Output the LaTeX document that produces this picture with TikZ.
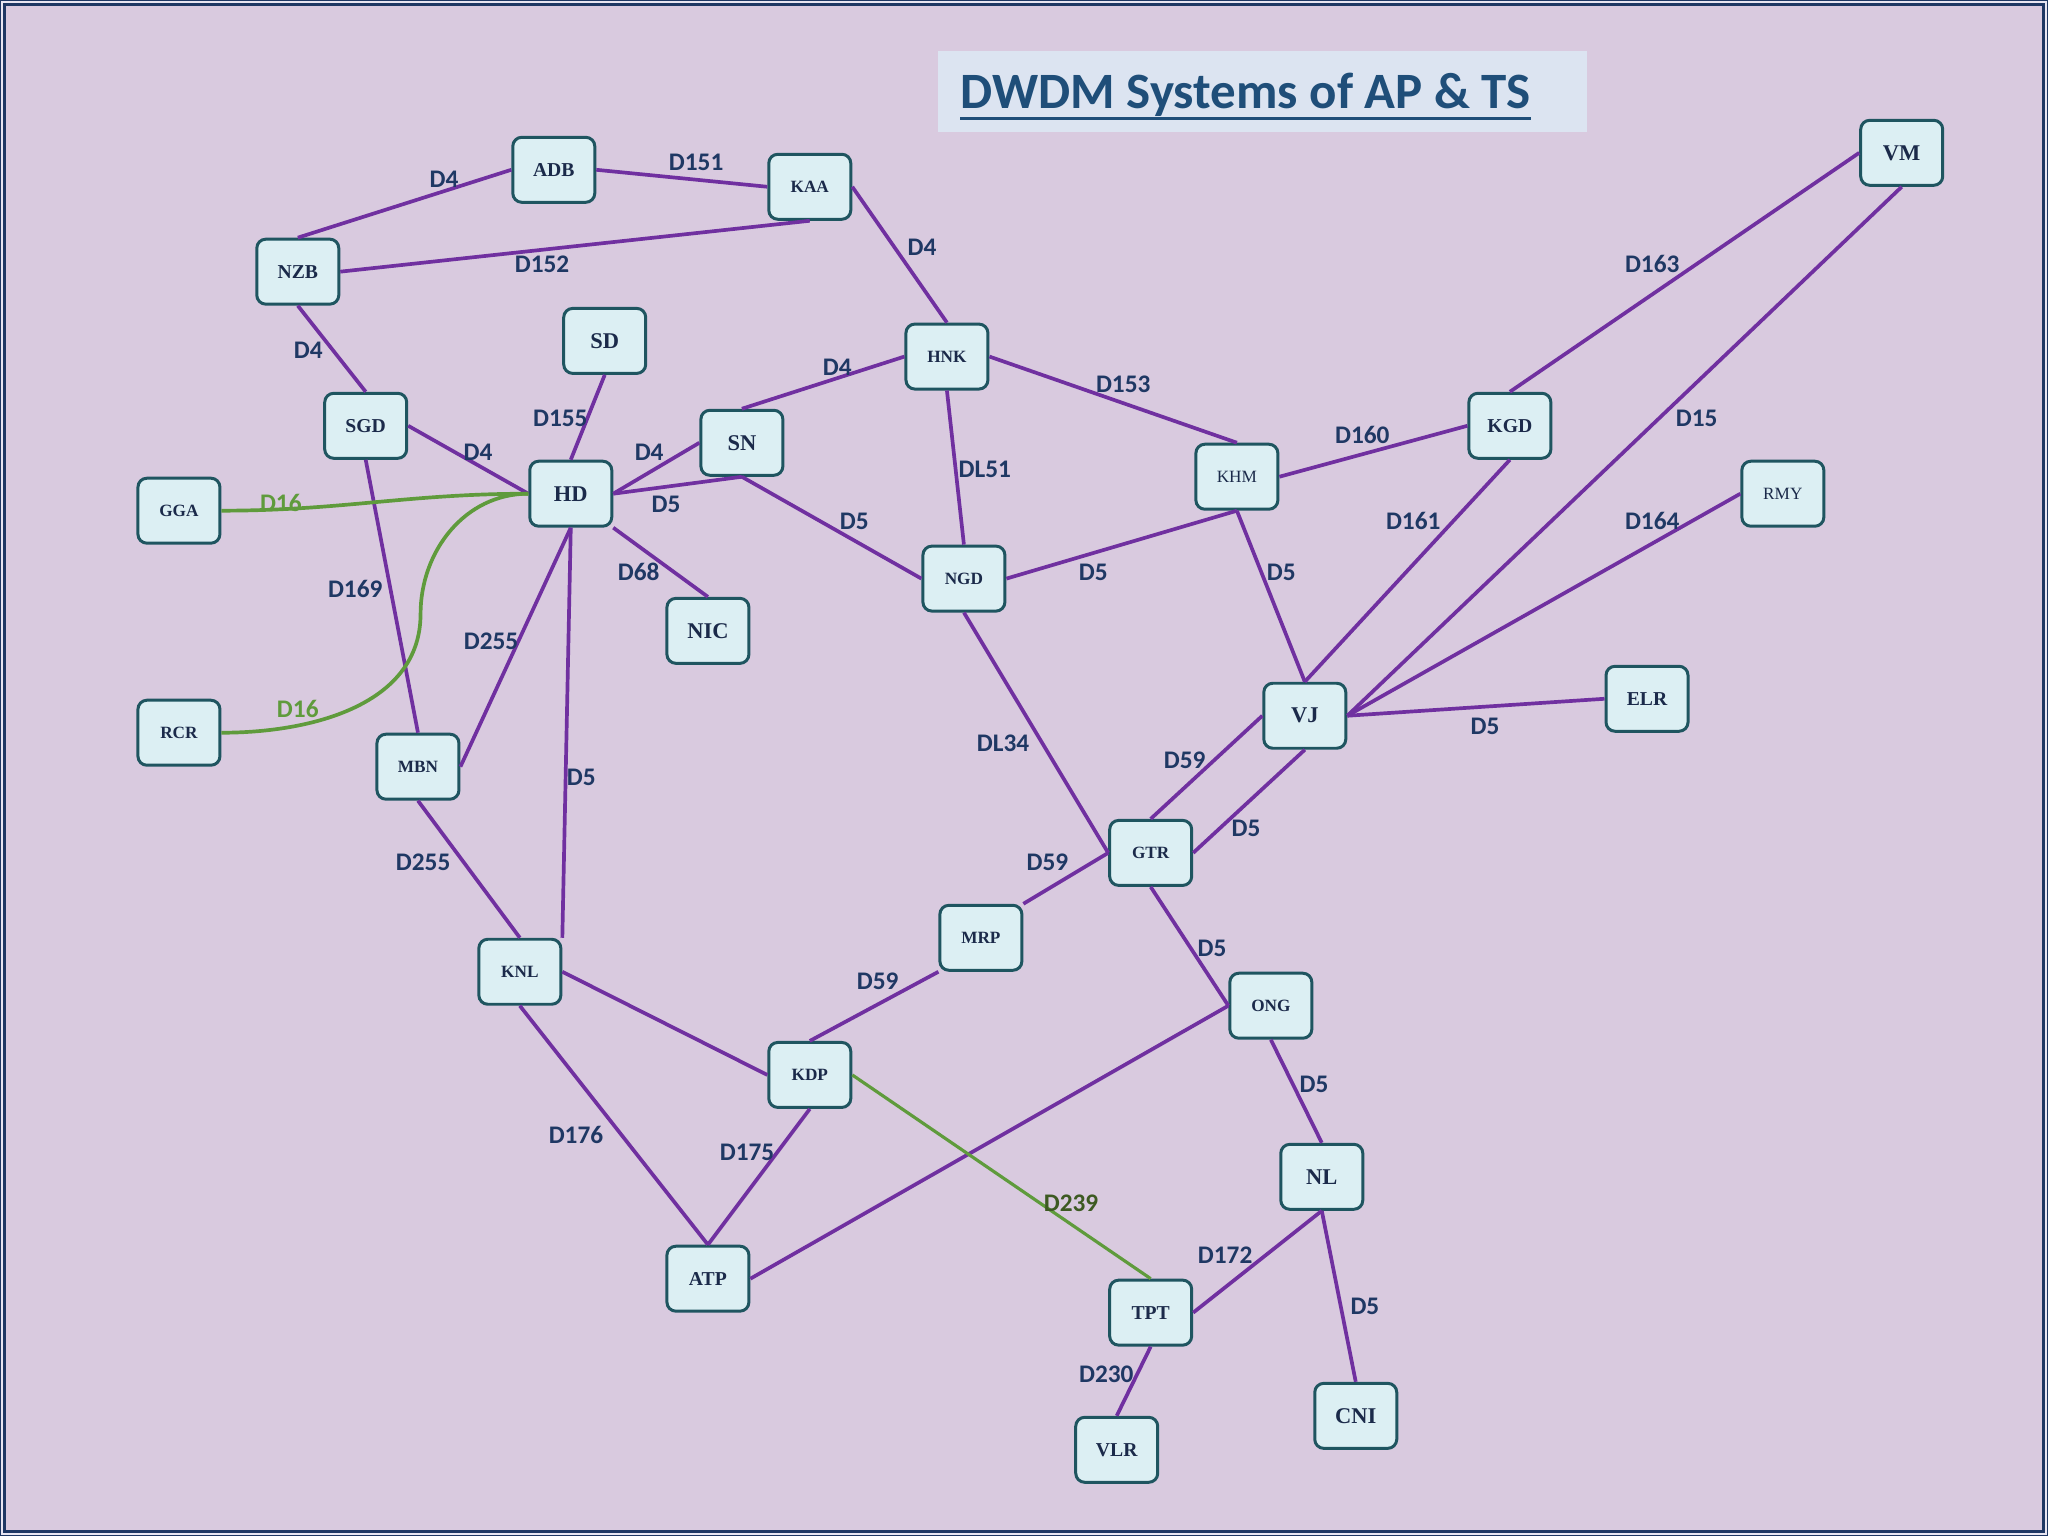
\documentclass[tikz,border=0pt]{standalone}
\usepackage{fontspec}
\setmainfont{Liberation Serif}
\newfontfamily\lblfont{Carlito}
\definecolor{ground}{HTML}{D9CADF}
\definecolor{frame}{HTML}{1F3864}
\definecolor{gap}{HTML}{E9E6F2}
\definecolor{cell}{HTML}{DCEFF3}
\definecolor{rim}{HTML}{1F5560}
\definecolor{ink}{HTML}{1B2A4A}
\definecolor{fibre}{HTML}{7030A0}
\definecolor{leaf}{HTML}{5F9B3C}
\definecolor{olive}{HTML}{3D5A22}
\definecolor{tag}{HTML}{1F3864}
\definecolor{banner}{HTML}{DCE4F1}
\definecolor{heading}{HTML}{1F4E79}

\begin{document}
\begin{tikzpicture}[x=0.013061cm,y=-0.013061cm,
 stn/.style={draw=rim,fill=cell,line width=0.85pt,rounded corners=0.9mm,minimum width=8.2mm,minimum height=6.5mm,inner sep=0pt,text=ink,font=\bfseries\fontsize{5.6}{6}\selectfont},
 stnsmall/.style={stn,font=\bfseries\fontsize{4.9}{5}\selectfont},
 stnbig/.style={stn,font=\bfseries\fontsize{6.4}{7}\selectfont},
 stnreg/.style={stn,font=\fontsize{4.9}{5}\selectfont},
 link/.style={fibre,line width=1.05pt},
 glink/.style={leaf,line width=1.05pt},
 lbl/.style={font=\lblfont\bfseries\fontsize{7.2}{8}\selectfont,text=tag,inner sep=0pt},
 glbl/.style={lbl,text=leaf},
 olbl/.style={lbl,text=olive}]
\useasboundingbox (0,0) rectangle (1568,1176);
% page and double frame
\fill[frame] (0,0) rectangle (1568,1176);
\fill[gap] (0.8,0.8) rectangle (1567.2,1175.2);
\fill[frame] (2.3,2.3) rectangle (1565.7,1173.7);
\fill[ground] (4.6,4.6) rectangle (1563.4,1171.4);
% title
\node[fill=banner,minimum width=6.49cm,minimum height=0.81cm,inner sep=0pt] (banner) at (966.5,70) {};
\node[font=\lblfont\bfseries\fontsize{14.5}{16}\selectfont,text=heading,inner sep=0pt,anchor=base west] (title) at (735,83) {DWDM Systems of AP \& TS};
\draw[heading,line width=1pt] ([yshift=-1mm]title.base west) -- ([yshift=-1mm]title.base east);
% stations
\node[stn](ADB) at (424,130) {ADB};
\node[stnsmall](KAA) at (620,143) {KAA};
\node[stn](NZB) at (228,208) {NZB};
\node[stnbig](SD) at (463,261) {SD};
\node[stnsmall](HNK) at (725,273) {HNK};
\node[stn](SGD) at (280,326) {SGD};
\node[stnbig](SN) at (568,339) {SN};
\node[stnbig](HD) at (437,378) {HD};
\node[stnreg](KHM) at (947,365) {KHM};
\node[stn](KGD) at (1156,326) {KGD};
\node[stnbig](VM) at (1456,117) {VM};
\node[stnreg](RMY) at (1365,378) {RMY};
\node[stnsmall](GGA) at (137,391) {GGA};
\node[stnsmall](NGD) at (738,443) {NGD};
\node[stnbig](NIC) at (542,483) {NIC};
\node[stnsmall](RCR) at (137,561) {RCR};
\node[stnsmall](MBN) at (320,587) {MBN};
\node[stnbig](VJ) at (999,548) {VJ};
\node[stn](ELR) at (1261,535) {ELR};
\node[stnsmall](GTR) at (881,653) {GTR};
\node[stnsmall](MRP) at (751,718) {MRP};
\node[stnsmall](KNL) at (398,744) {KNL};
\node[stnsmall](ONG) at (973,770) {ONG};
\node[stnsmall](KDP) at (620,823) {KDP};
\node[stnbig](NL) at (1012,901) {NL};
\node[stn](ATP) at (542,979) {ATP};
\node[stn](TPT) at (881,1005) {TPT};
\node[stn](VLR) at (855,1110) {VLR};
\node[stnbig](CNI) at (1038,1084) {CNI};
% links
\foreach \a/\b in {NZB.north/ADB.west,ADB.east/KAA.west,NZB.east/KAA.south,KAA.east/HNK.north,
 NZB.south/SGD.north,SGD.east/HD.west,SD.south/HD.north,HD.east/SN.west,HD.east/SN.south,
 SN.north/HNK.west,SN.south/NGD.west,HD.south east/NIC.north,HNK.south/NGD.north,HNK.east/KHM.north,
 KHM.east/KGD.west,NGD.east/KHM.south,KHM.south/VJ.north,KGD.north/VM.west,VJ.north/KGD.south,
 VJ.east/VM.south,VJ.east/RMY.west,VJ.east/ELR.west,SGD.south/MBN.north,HD.south/MBN.east,
 HD.south/KNL.north east,MBN.south/KNL.north,NGD.south/GTR.west,GTR.north/VJ.west,GTR.east/VJ.south,
 GTR.west/MRP.north east,MRP.south west/KDP.north,GTR.south/ONG.west,KNL.east/KDP.west,
 KNL.south/ATP.north,KDP.south/ATP.north,ATP.east/ONG.west,ONG.south/NL.north,NL.south/TPT.east,
 NL.south/CNI.north,TPT.south/VLR.north}{\draw[link](\a)--(\b);}
\coordinate (bend) at (322,470);
\draw[glink](GGA.east) to[out=0,in=180] (HD.west);
\draw[glink](RCR.east) to[out=0,in=-90] (bend) to[out=90,in=180] (HD.west);
\draw[glink,line width=0.9pt](KDP.east)--(TPT.north);
% labels
\foreach \t/\x/\y [count=\i] in {D4/340/137,D151/533/124,D152/415/202,D4/706/189,D4/236/268,D4/366/346,
 D155/429/320,D4/497/346,D5/510/386,D4/641/281,D5/654/399,D68/489/438,DL51/754/359,D153/860/294,
 D160/1043/333,D5/837/438,D5/981/438,D163/1265/202,D161/1082/399,D15/1299/320,D164/1265/399,
 D5/1137/556,D169/272/451,D255/376/491,D5/445/595,D255/324/660,DL34/768/569,D59/907/582,
 D5/954/634,D59/802/660,D59/672/751,D5/928/726,D176/441/869,D175/572/882,D5/1006/830,
 D172/938/961,D5/1045/1000,D230/847/1052}{\node[lbl](lab\i) at (\x,\y) {\t};}
\node[glbl](labg1) at (215,385) {D16};
\node[glbl](labg2) at (228,543) {D16};
\node[olbl](labg3) at (820,921) {D239};
\end{tikzpicture}
\end{document}
